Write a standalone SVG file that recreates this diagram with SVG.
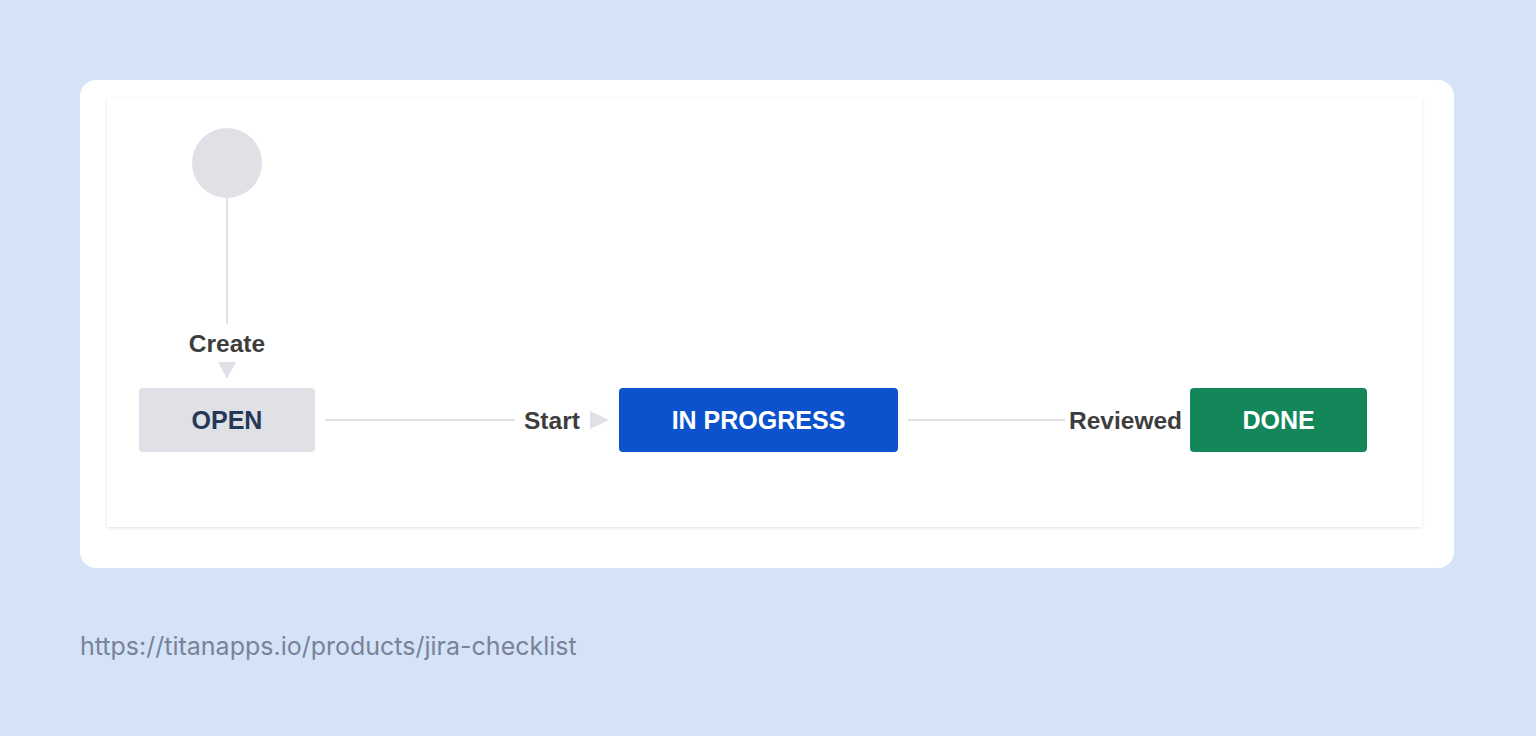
<svg xmlns="http://www.w3.org/2000/svg" width="1536" height="736" viewBox="0 0 1536 736">
<defs>
<style>
.lbl{font-family:"Liberation Sans",Arial,sans-serif;font-weight:bold;font-size:24.5px;fill:#3d3d3d;}
.st{font-family:"Liberation Sans",Arial,sans-serif;font-weight:bold;font-size:25px;text-anchor:middle;}
.edge{stroke:#DFE1E6;stroke-width:2;fill:none;}
.head{fill:#DFE1E6;}
</style>
<filter id="sh" x="-5%" y="-5%" width="110%" height="110%">
<feDropShadow dx="0" dy="1" stdDeviation="1.5" flood-color="#000" flood-opacity="0.12"/>
</filter>
</defs>
<rect width="1536" height="736" fill="#D4E3F8"/>
<rect x="80" y="80" width="1374" height="488" rx="16" fill="#FFFFFF"/>
<rect x="107" y="98" width="1315" height="429" fill="#FFFFFF" filter="url(#sh)"/>
<g id="connectors">
<line class="edge" x1="227" y1="198" x2="227" y2="324"/>
<polygon class="head" points="218,362 236,362 227,379"/>
<text class="lbl" x="227" y="352" text-anchor="middle">Create</text>
<line class="edge" x1="325" y1="420" x2="515" y2="420"/>
<text class="lbl" x="524" y="429">Start</text>
<polygon class="head" points="590,411 590,429 609,420"/>
<line class="edge" x1="908" y1="420" x2="1065" y2="420"/>
<text class="lbl" x="1069" y="429">Reviewed</text>
</g>
<g id="start">
<circle cx="227" cy="163" r="35" fill="#DFE1E6"/>
</g>
<g id="open">
<rect x="139" y="388" width="176" height="64" rx="4" fill="#DFE1E6"/>
<text class="st" x="227" y="429" fill="#253858">OPEN</text>
</g>
<g id="inprogress">
<rect x="619" y="388" width="279" height="64" rx="4" fill="#0B52CC"/>
<text class="st" x="758.500" y="429" fill="#FFFFFF">IN PROGRESS</text>
</g>
<g id="done">
<rect x="1190" y="388" width="177" height="64" rx="4" fill="#14875A"/>
<text class="st" x="1278.500" y="429" fill="#FFFFFF">DONE</text>
</g>
<text x="80" y="655" font-family="Inter, 'Open Sans', sans-serif" font-size="25" fill="#7A8299">https://titanapps.io/products/jira-checklist</text>
</svg>
